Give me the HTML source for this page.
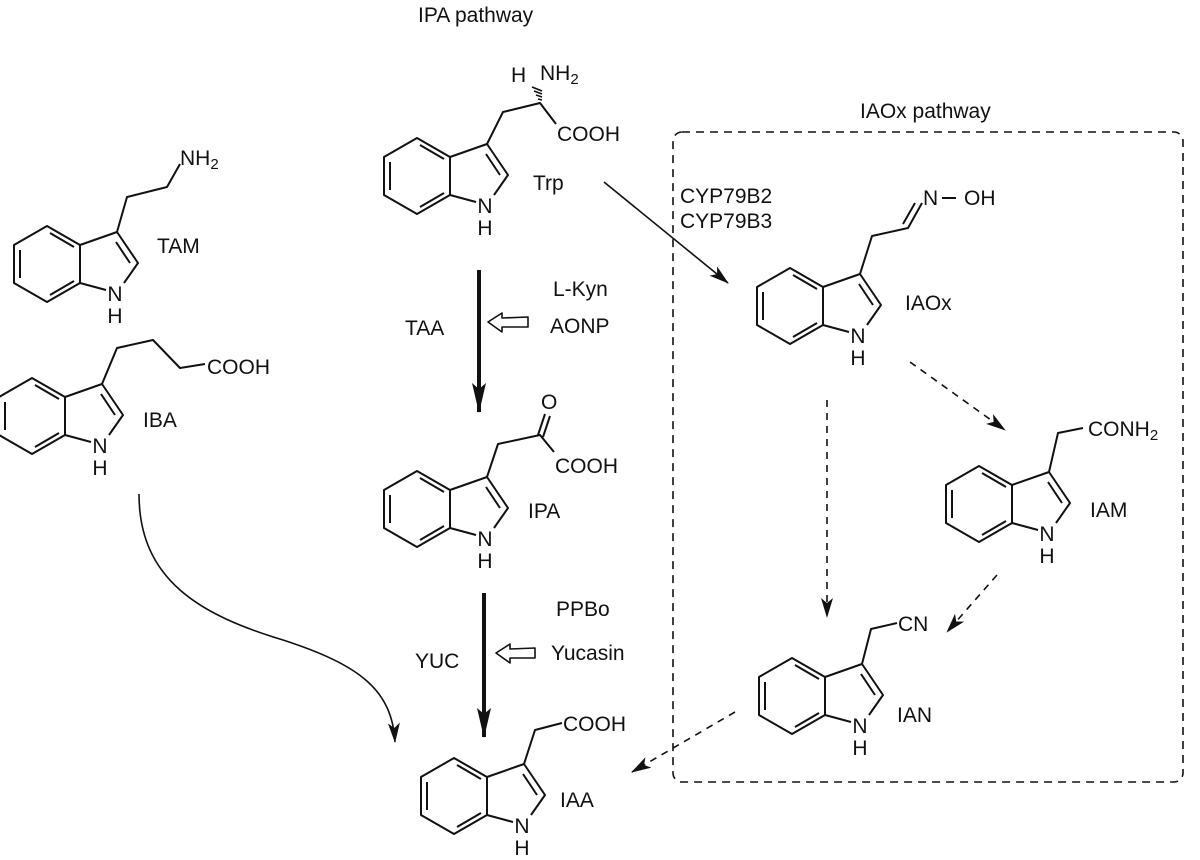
<!DOCTYPE html>
<html><head><meta charset="utf-8"><style>
html,body{margin:0;padding:0;background:#fff;}
svg{display:block;}
text{font-family:"Liberation Sans",sans-serif;font-size:21px;fill:#111;}
</style></head><body>
<svg width="1200" height="860" viewBox="0 0 1200 860" xmlns="http://www.w3.org/2000/svg">
<defs>
<marker id="ah" viewBox="0 0 20 12" refX="19" refY="6" markerWidth="20" markerHeight="12" markerUnits="userSpaceOnUse" orient="auto">
<path d="M0,0 L20,6 L0,12 L5,6 Z" fill="#111"/>
</marker>
<marker id="ahb" viewBox="0 0 14 30" refX="7" refY="29" markerWidth="14" markerHeight="30" markerUnits="userSpaceOnUse" orient="0">
<path d="M0,0 L7,30 L14,0 L7,6 Z" fill="#111"/>
</marker>
<g id="ind" fill="none" stroke="#111" stroke-width="2" stroke-linejoin="round">
<path d="M0,0 L-33,-19 L-66,0 L-66,38 L-33,57 L0,38 Z"/>
<path d="M-30,-12 L-6,2 M-60,5 L-60,33 M-30,50 L-6,36"/>
<path d="M0,0 L37,-13 L58,18 L44,38 M0,38 L26,45"/>
<path d="M36,-3 L50,18"/>
</g>
</defs>

<g fill="none" stroke="#111" stroke-width="2" stroke-linejoin="round">
<rect x="673" y="132" width="510" height="650" rx="9" stroke-dasharray="8,6" stroke-width="1.6"/>
</g>

<use href="#ind" x="80" y="245"/>
<use href="#ind" x="65" y="397"/>
<use href="#ind" x="450" y="157"/>
<use href="#ind" x="450" y="490"/>
<use href="#ind" x="487" y="777"/>
<use href="#ind" x="823" y="287"/>
<use href="#ind" x="1012" y="485"/>
<use href="#ind" x="825" y="677"/>

<g text-anchor="middle">
<text x="115" y="301">N</text><text x="115" y="323">H</text>
<text x="100" y="453">N</text><text x="100" y="475">H</text>
<text x="485" y="213">N</text><text x="485" y="235">H</text>
<text x="485" y="546">N</text><text x="485" y="568">H</text>
<text x="522" y="833">N</text><text x="522" y="855">H</text>
<text x="858" y="343">N</text><text x="858" y="365">H</text>
<text x="1047" y="541">N</text><text x="1047" y="563">H</text>
<text x="860" y="733">N</text><text x="860" y="755">H</text>
</g>

<g fill="none" stroke="#111" stroke-width="2" stroke-linejoin="round">
<path d="M117,232 L127,197 L167,187 L180,164"/>
<path d="M102,384 L117,348 L153,340 L180,368 L205,364"/>
<path d="M487,144 L503,112 L540,103 L556,124"/>
<path d="M487,477 L498,444 L540,435 L554,452"/>
<path d="M538,435 L545,414 M543,437 L550,416"/>
<path d="M524,764 L535,730 L562,723"/>
<path d="M860,274 L872,236 L908,228 L922,203 M903,224 L915,203"/>
<path d="M942,198 L956,198"/>
<path d="M1049,472 L1058,433 L1083,428"/>
<path d="M862,664 L871,629 L897,623"/>
</g>
<g stroke="#111" stroke-width="1.6">
<line x1="538" y1="99" x2="542" y2="100"/>
<line x1="536" y1="95" x2="542" y2="97"/>
<line x1="534" y1="91" x2="542" y2="94"/>
<line x1="532" y1="87" x2="542" y2="91"/>
</g>

<text x="180" y="165">NH<tspan font-size="15" dy="4">2</tspan></text>
<text x="207" y="374">COOH</text>
<text x="511" y="82">H</text>
<text x="540" y="80">NH<tspan font-size="15" dy="4">2</tspan></text>
<text x="557" y="141">COOH</text>
<text x="541" y="409">O</text>
<text x="555" y="473">COOH</text>
<text x="563" y="731">COOH</text>
<text x="923" y="205">N</text>
<text x="964" y="205">OH</text>
<text x="1088" y="436">CONH<tspan font-size="15" dy="4">2</tspan></text>
<text x="898" y="631">CN</text>

<text x="157" y="253">TAM</text>
<text x="143" y="427">IBA</text>
<text x="533" y="190">Trp</text>
<text x="528" y="518">IPA</text>
<text x="560" y="807">IAA</text>
<text x="905" y="310">IAOx</text>
<text x="1090" y="517">IAM</text>
<text x="897" y="722">IAN</text>

<text x="418" y="22">IPA pathway</text>
<text x="860" y="118">IAOx pathway</text>
<text x="680" y="203">CYP79B2</text>
<text x="680" y="228">CYP79B3</text>
<text x="405" y="335">TAA</text>
<text x="553" y="296">L-Kyn</text>
<text x="550" y="333">AONP</text>
<text x="415" y="668">YUC</text>
<text x="556" y="616">PPBo</text>
<text x="551" y="660">Yucasin</text>

<g stroke="#111" stroke-width="4" fill="none">
<line x1="479" y1="270" x2="479" y2="412" marker-end="url(#ahb)"/>
<line x1="484" y1="593" x2="484" y2="737" marker-end="url(#ahb)"/>
</g>
<g fill="#fff" stroke="#111" stroke-width="1.6" stroke-linejoin="round">
<path d="M488,322 L502,313 L502,318 L528,317 L528,327 L502,327 L502,332 Z"/>
<path d="M496,653 L510,644 L510,649 L535,648 L535,658 L510,658 L510,663 Z"/>
</g>

<g fill="none" stroke="#111" stroke-width="1.6">
<line x1="604" y1="182" x2="728" y2="283" marker-end="url(#ah)"/>
<path d="M139,494 C139,580 200,615 283,640 C360,665 392,690 395,742" marker-end="url(#ah)"/>
</g>
<g fill="none" stroke="#111" stroke-width="1.6" stroke-dasharray="7,6">
<line x1="910" y1="362" x2="1005" y2="430" marker-end="url(#ah)"/>
<line x1="827" y1="400" x2="827" y2="617" marker-end="url(#ah)"/>
<line x1="997" y1="575" x2="947" y2="632" marker-end="url(#ah)"/>
<line x1="735" y1="712" x2="632" y2="772" marker-end="url(#ah)"/>
</g>
</svg>
</body></html>
